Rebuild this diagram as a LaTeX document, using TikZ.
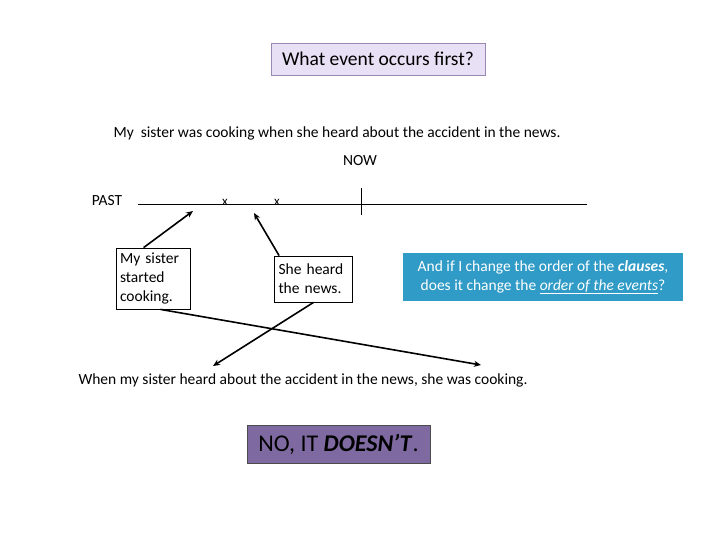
\documentclass[tikz,border=0pt]{standalone}
\usepackage{fontspec}
\setmainfont{Carlito}
\usetikzlibrary{arrows.meta}
\definecolor{titlefill}{HTML}{E8E0F4}
\definecolor{titledraw}{HTML}{9A88B4}
\definecolor{bluefill}{HTML}{2F9BC6}
\definecolor{nofill}{HTML}{7E69A0}
\tikzset{
  txt/.style={inner sep=0pt, font=\fontsize{15.5}{18}\selectfont},
  lbox/.style={draw, thick, fill=white, align=left, font=\fontsize{15.5}{19}\selectfont, inner sep=0pt},
  arr/.style={line width=1.6pt, -{Stealth[length=7pt,width=6pt]}},
}
\begin{document}
\begin{tikzpicture}[x=1pt,y=-1pt]
\useasboundingbox (0,0) rectangle (720,540);
\node[draw=titledraw, fill=titlefill, minimum width=214, minimum height=32, font=\fontsize{19.5}{22}\selectfont, inner sep=0pt] (title) at (378,59) {What event occurs first?};
\node[txt] (s1) at (337,133) {My\ \ sister was cooking when she heard about the accident in the news.};
\node[txt] (now) at (360,161) {NOW};
\node[txt] (past) at (107,201) {PAST};
\coordinate (l0) at (138,204); \coordinate (l1) at (587,204);
\draw (l0) -- (l1);
\coordinate (t0) at (361,188); \coordinate (t1) at (361,215);
\draw (t0) -- (t1);
\node[txt, font=\fontsize{13}{14}\selectfont] (x1) at (225,202) {x};
\node[txt, font=\fontsize{13}{14}\selectfont] (x2) at (277,202) {x};
\node[lbox, minimum width=74, minimum height=61, text width=66, inner xsep=4pt] (b1) at (153,278.5) {My sister\\started\\cooking.};
\node[lbox, minimum width=77, minimum height=46, text width=70, inner xsep=4pt] (b2) at (313.5,279) {She heard\\the news.};
\node[fill=bluefill, minimum width=280, minimum height=48, text=white, align=center, font=\fontsize{15.5}{19}\selectfont, inner sep=0pt] (q) at (543,277) {And if I change the order of the \textbf{\textit{clauses}},\\does it change the \underline{\textit{order of the events}}?};
\node[txt] (s2) at (303,380) {When my sister heard about the accident in the news, she was cooking.};
\node[fill=nofill, draw=black!70, minimum width=183, minimum height=38, font=\fontsize{24}{26}\selectfont, inner sep=0pt] (no) at (338.5,444) {NO, IT \textbf{\textit{DOESN’T}}.};
\coordinate (a1) at (193,211);
\coordinate (a2) at (254,213);
\coordinate (a3) at (481,365);
\coordinate (a4) at (213,366);
\draw[arr] ([xshift=28]b1.north west) -- (a1);
\draw[arr] ([xshift=5]b2.north west) -- (a2);
\draw[arr] ([xshift=-30]b1.south east) -- (a3);
\draw[arr] (b2.south) -- (a4);
\end{tikzpicture}
\end{document}
